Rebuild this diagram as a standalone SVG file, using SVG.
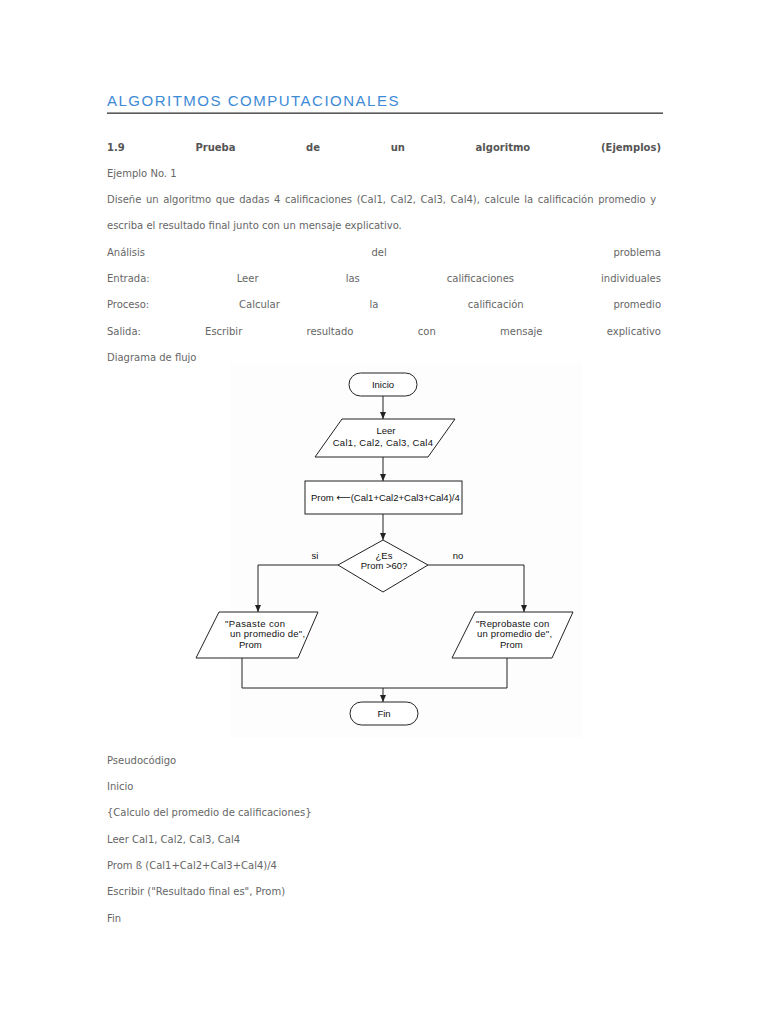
<svg xmlns="http://www.w3.org/2000/svg" width="768" height="1024" viewBox="0 0 768 1024">
<style>
.body{font-family:"DejaVu Sans",Verdana,sans-serif;font-size:10px;fill:#666}
.bold{font-family:"DejaVu Sans",Verdana,sans-serif;font-size:10px;font-weight:bold;fill:#555}
.title{font-family:"Liberation Sans",Arial,sans-serif;font-size:15px;fill:#3d8ad6;letter-spacing:1.5px}
.fc{font-family:"Liberation Sans",Arial,sans-serif;font-size:9.5px;fill:#111}
.fcm{font-family:"Liberation Sans",Arial,sans-serif;font-size:9.5px;fill:#111;text-anchor:middle}
.shape{fill:#fff;stroke:#222;stroke-width:1}
.line{fill:none;stroke:#222;stroke-width:1}
</style>
<defs>
<marker id="arr" markerUnits="userSpaceOnUse" markerWidth="7" markerHeight="6" refX="7" refY="3" orient="auto" viewBox="0 0 7 6">
<path d="M0,0 L7,3 L0,6 Z" fill="#222"/>
</marker>
</defs>
<rect width="768" height="1024" fill="#fff"/>

<text class="title" x="107" y="105.5">ALGORITMOS COMPUTACIONALES</text>
<rect x="107" y="112.5" width="556" height="1.3" fill="#333"/>

<g class="bold">
<text x="107" y="151">1.9</text>
<text x="195.4" y="151">Prueba</text>
<text x="306.1" y="151">de</text>
<text x="390.7" y="151">un</text>
<text x="475.6" y="151">algoritmo</text>
<text x="661" y="151" text-anchor="end">(Ejemplos)</text>
</g>

<g class="body">
<text x="107" y="177">Ejemplo No. 1</text>
<text x="107" y="203" word-spacing="1.4">Diseñe un algoritmo que dadas 4 calificaciones (Cal1, Cal2, Cal3, Cal4), calcule la calificación promedio y</text>
<text x="107" y="229">escriba el resultado final junto con un mensaje explicativo.</text>
<text x="107" y="256">Análisis</text>
<text x="371.5" y="256">del</text>
<text x="661" y="256" text-anchor="end">problema</text>
<text x="107" y="282">Entrada:</text>
<text x="236.7" y="282">Leer</text>
<text x="345.7" y="282">las</text>
<text x="446.8" y="282">calificaciones</text>
<text x="661" y="282" text-anchor="end">individuales</text>
<text x="107" y="308">Proceso:</text>
<text x="239.1" y="308">Calcular</text>
<text x="369.4" y="308">la</text>
<text x="467.8" y="308">calificación</text>
<text x="661" y="308" text-anchor="end">promedio</text>
<text x="107" y="335">Salida:</text>
<text x="205.1" y="335">Escribir</text>
<text x="306.5" y="335">resultado</text>
<text x="417.8" y="335">con</text>
<text x="500" y="335">mensaje</text>
<text x="661" y="335" text-anchor="end">explicativo</text>
<text x="107" y="361">Diagrama de flujo</text>
</g>

<rect x="230" y="363" width="352" height="375" fill="#fdfdfd"/>

<g id="connectors">
<path class="line" d="M383,396 V419" marker-end="url(#arr)"/>
<path class="line" d="M383,457 V481" marker-end="url(#arr)"/>
<path class="line" d="M383,514 V540" marker-end="url(#arr)"/>
<path class="line" d="M338,565 H258 V612" marker-end="url(#arr)"/>
<path class="line" d="M428,565 H524 V612" marker-end="url(#arr)"/>
<path class="line" d="M242,658 V688 H507 V658"/>
<path class="line" d="M383,688 V702" marker-end="url(#arr)"/>
</g>

<g id="inicio">
<rect class="shape" x="349" y="373" width="68" height="23" rx="11.5"/>
<text class="fcm" x="383" y="388">Inicio</text>
</g>

<g id="leer">
<polygon class="shape" points="342,419 455,419 428,457 315,457"/>
<text class="fcm" x="386" y="434">Leer</text>
<text class="fcm" x="383" y="446" letter-spacing="0.3">Cal1, Cal2, Cal3, Cal4</text>
</g>

<g id="prom">
<rect class="shape" x="305" y="481" width="157" height="33"/>
<text class="fc" x="311" y="501">Prom <tspan font-family="'DejaVu Sans',sans-serif" font-size="10">⟵</tspan>(Cal1+Cal2+Cal3+Cal4)/4</text>
</g>

<g id="decision">
<polygon class="shape" points="383,540 428,565 383,592 338,565"/>
<text class="fcm" x="384" y="559">¿Es</text>
<text class="fcm" x="384" y="569">Prom &gt;60?</text>
</g>

<g id="labels">
<text class="fcm" x="315" y="559">si</text>
<text class="fcm" x="458" y="559">no</text>
</g>

<g id="pasaste">
<polygon class="shape" points="219,612 318,612 298,658 196,658"/>
<text class="fc" x="225" y="627" letter-spacing="0.4">"Pasaste con</text>
<text class="fc" x="230" y="637" letter-spacing="0.2">un promedio de",</text>
<text class="fc" x="239" y="648">Prom</text>
</g>

<g id="reprobaste">
<polygon class="shape" points="475,612 573,612 552,658 452,658"/>
<text class="fc" x="476" y="627" letter-spacing="0.2">"Reprobaste con</text>
<text class="fc" x="477" y="637" letter-spacing="0.2">un promedio de",</text>
<text class="fc" x="500" y="648">Prom</text>
</g>

<g id="fin">
<rect class="shape" x="350" y="702" width="68" height="23" rx="11.5"/>
<text class="fcm" x="384" y="717">Fin</text>
</g>

<g class="body">
<text x="107" y="764">Pseudocódigo</text>
<text x="107" y="790">Inicio</text>
<text x="107" y="816">{Calculo del promedio de calificaciones}</text>
<text x="107" y="843">Leer Cal1, Cal2, Cal3, Cal4</text>
<text x="107" y="869">Prom ß (Cal1+Cal2+Cal3+Cal4)/4</text>
<text x="107" y="895">Escribir ("Resultado final es", Prom)</text>
<text x="107" y="922">Fin</text>
</g>
</svg>
